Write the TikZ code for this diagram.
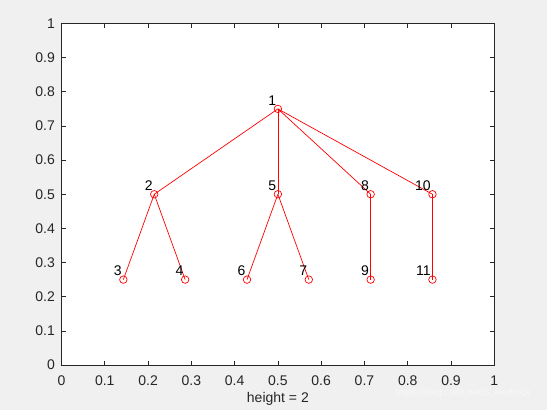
\documentclass[tikz,border=0pt]{standalone}
\usepackage{fontspec}
\setmainfont{Liberation Sans}
\usetikzlibrary{positioning}
\definecolor{figbg}{HTML}{F0F0F0}
\definecolor{axgray}{HTML}{262626}

\begin{document}
\begin{tikzpicture}[
  every node/.style={font=\fontsize{14}{16}\selectfont},
  treenode/.style={circle, draw=red, line width=0.7pt, minimum size=7.5pt, inner sep=0pt},
  edge/.style={red, line width=0.7pt},
  numlabel/.style={anchor=south east, inner sep=0pt, text=black},
  ticklab/.style={text=axgray, inner sep=0pt}]
  \fill[figbg] (0,0) rectangle (547pt,410pt);
  \begin{scope}[x=432.8pt, y=341.5pt, shift={(61.5pt,45pt)}]
  \fill[white] (0,0) rectangle (1,1);
  % ticks and tick labels
  \foreach \t/\lab [count=\i] in {0/0,0.1/0.1,0.2/0.2,0.3/0.3,0.4/0.4,0.5/0.5,0.6/0.6,0.7/0.7,0.8/0.8,0.9/0.9,1/1} {
    \draw[axgray, line width=0.6pt] (\t,0) -- ++(0,4.3pt) (\t,1) -- ++(0,-4.3pt)
      (0,\t) -- ++(4.3pt,0) (1,\t) -- ++(-4.3pt,0);
    \node[ticklab, anchor=north] (xt\i) at (\t,-11pt) {\lab};
    \node[ticklab, anchor=east] (yt\i) at (-6.5pt,\t) {\lab};
  }
  \draw[axgray, line width=0.8pt] (0,0) rectangle (1,1);
  \node[text=axgray] (xlab) at (0.5,-34pt) {height = 2};

  % tree
  \foreach \n/\x/\y in {1/0.5/0.75, 2/0.2143/0.5, 3/0.1429/0.25, 4/0.2857/0.25,
      5/0.5/0.5, 6/0.4286/0.25, 7/0.5714/0.25, 8/0.7143/0.5, 9/0.7143/0.25,
      10/0.8571/0.5, 11/0.8571/0.25}
    \node[treenode] (n\n) at (\x,\y) {};
  \foreach \a/\b in {1/2, 2/3, 2/4, 1/5, 5/6, 5/7, 1/8, 8/9, 1/10, 10/11}
    \draw[edge] (n\a.center) -- (n\b.center);
  \foreach \n in {1,...,11}
    \node[numlabel] (l\n) at ([xshift=-1.5pt, yshift=3.5pt]n\n.center) {\n};
  \end{scope}
  \node[text=white!55!figbg, font=\fontsize{9.5}{11}\selectfont] (mark) at (463pt,17pt) {https://blog.csdn.net/S\_Redrock};
\end{tikzpicture}
\end{document}
